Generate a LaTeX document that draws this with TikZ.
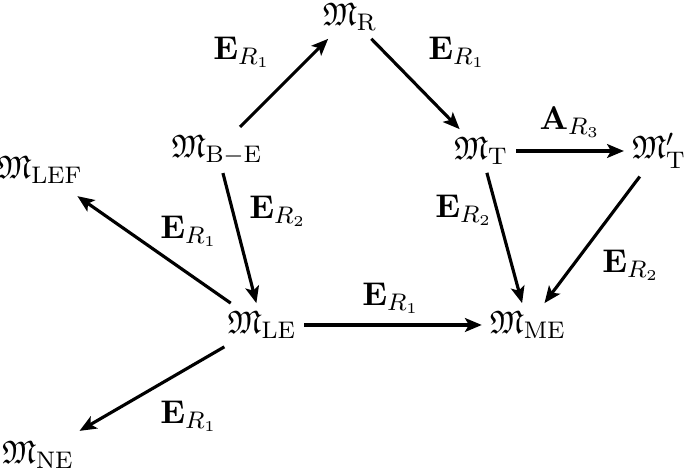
\documentclass[tikz,border=0pt]{standalone}
\usepackage{amssymb}
\usetikzlibrary{arrows.meta}
\begin{document}
\begin{tikzpicture}[x=0.3333pt,y=-0.3333pt,font=\fontsize{10.8}{13}\selectfont,
  obj/.style={inner sep=2.5pt},
  lab/.style={inner sep=0pt},
  arr/.style={line width=1.05pt,-{Stealth[length=5.6pt,width=4.6pt,inset=1.3pt]}}]
\useasboundingbox (0,0) rectangle (685,469);
\node[obj] (R) at (350,17) {$\mathfrak{M}_{\mathrm{R}}$};
\node[obj] (BE) at (217,150) {$\mathfrak{M}_{\mathrm{B-E}}$};
\node[obj] (T) at (481,151) {$\mathfrak{M}_{\mathrm{T}}$};
\node[obj] (Tp) at (659,151) {$\mathfrak{M}'_{\mathrm{T}}$};
\node[obj] (LEF) at (40,170) {$\mathfrak{M}_{\mathrm{LEF}}$};
\node[obj] (LE) at (262,325) {$\mathfrak{M}_{\mathrm{LE}}$};
\node[obj] (ME) at (528,325) {$\mathfrak{M}_{\mathrm{ME}}$};
\node[obj] (NE) at (38,455) {$\mathfrak{M}_{\mathrm{NE}}$};

\draw[arr] (BE) -- (R);
\draw[arr] (R) -- (T);
\draw[arr] (T) -- (Tp);
\draw[arr] (T) -- (ME);
\draw[arr] (Tp) -- (ME);
\draw[arr] (BE) -- (LE);
\draw[arr,shorten >=2.5pt] (LE) -- (LEF);
\draw[arr,shorten >=1.5pt] (LE) -- (NE);
\draw[arr] (LE) -- (ME);

\node[lab] (l1) at (242,52) {$\mathbf{E}_{R_1}$};
\node[lab] (l2) at (457,52) {$\mathbf{E}_{R_1}$};
\node[lab] (l3) at (570,122) {$\mathbf{A}_{R_3}$};
\node[lab] (l4) at (464,210) {$\mathbf{E}_{R_2}$};
\node[lab] (l5) at (631,265) {$\mathbf{E}_{R_2}$};
\node[lab] (l6) at (278,211) {$\mathbf{E}_{R_2}$};
\node[lab] (l7) at (189,231) {$\mathbf{E}_{R_1}$};
\node[lab] (l8) at (189,416) {$\mathbf{E}_{R_1}$};
\node[lab] (l9) at (391,298) {$\mathbf{E}_{R_1}$};
\end{tikzpicture}
\end{document}
